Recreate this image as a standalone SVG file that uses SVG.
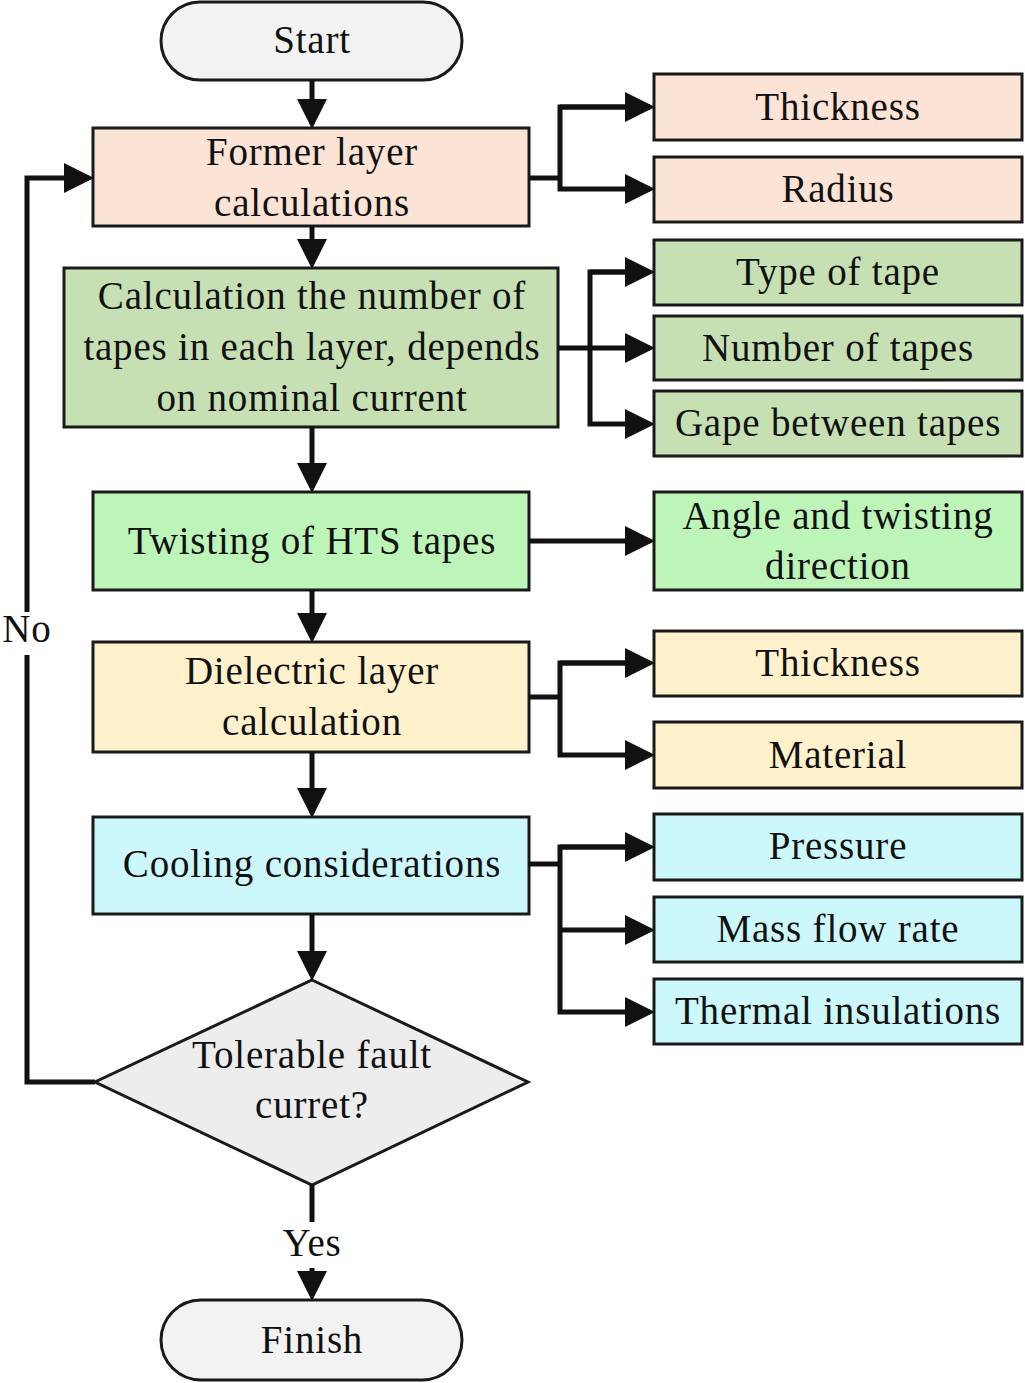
<svg xmlns="http://www.w3.org/2000/svg" width="1025" height="1383" viewBox="0 0 1025 1383">
<style>
text{font-family:"Liberation Serif","Times New Roman",serif;font-size:39px;letter-spacing:0.8px;fill:#111;text-anchor:middle}
.b{stroke:#1a1a1a;stroke-width:3}
.c{fill:none;stroke:#111;stroke-width:5}
</style>
<defs><marker id="a" markerWidth="6" markerHeight="6" refX="5" refY="3" orient="auto" markerUnits="strokeWidth"><path d="M0,0 L6,3 L0,6 z" fill="#111"/></marker></defs>
<rect width="1025" height="1383" fill="#fff"/>
<g id="start"><rect class="b" x="161" y="2" width="301" height="78" rx="39" fill="#f2f2f2"/><text x="312" y="53">Start</text></g>
<g id="former"><rect class="b" x="93" y="128" width="436" height="98" fill="#fbe3d5"/><text x="312" y="165">Former layer</text><text x="312" y="216">calculations</text></g>
<g id="calc"><rect class="b" x="64" y="268" width="494" height="159" fill="#c6e0b4"/><text x="312" y="309">Calculation the number of</text><text x="312" y="360">tapes in each layer, depends</text><text x="312" y="411">on nominal current</text></g>
<g id="twist"><rect class="b" x="93" y="492" width="436" height="98" fill="#bdf5b9"/><text x="312" y="554">Twisting of HTS tapes</text></g>
<g id="diel"><rect class="b" x="93" y="642" width="436" height="110" fill="#fff1cc"/><text x="312" y="684">Dielectric layer</text><text x="312" y="735">calculation</text></g>
<g id="cool"><rect class="b" x="93" y="817" width="436" height="97" fill="#ccf7fb"/><text x="312" y="877">Cooling considerations</text></g>
<g id="decision"><path class="b" d="M312,980 L528,1082 L312,1185 L95,1082 Z" fill="#ededed"/><text x="312" y="1068">Tolerable fault</text><text x="312" y="1118">curret?</text></g>
<g id="finish"><rect class="b" x="161" y="1300" width="301" height="80" rx="40" fill="#f2f2f2"/><text x="312" y="1353">Finish</text></g>
<g id="r1"><rect class="b" x="654" y="74" width="368" height="66" fill="#fbe3d5"/><text x="838" y="120">Thickness</text></g>
<g id="r2"><rect class="b" x="654" y="157" width="368" height="65" fill="#fbe3d5"/><text x="838" y="202">Radius</text></g>
<g id="r3"><rect class="b" x="654" y="240" width="368" height="65" fill="#c6e0b4"/><text x="838" y="285">Type of tape</text></g>
<g id="r4"><rect class="b" x="654" y="316" width="368" height="64" fill="#c6e0b4"/><text x="838" y="361">Number of tapes</text></g>
<g id="r5"><rect class="b" x="654" y="391" width="368" height="65" fill="#c6e0b4"/><text x="838" y="436">Gape between tapes</text></g>
<g id="r6"><rect class="b" x="654" y="492" width="368" height="98" fill="#bdf5b9"/><text x="838" y="529">Angle and twisting</text><text x="838" y="579">direction</text></g>
<g id="r7"><rect class="b" x="654" y="631" width="368" height="65" fill="#fff1cc"/><text x="838" y="676">Thickness</text></g>
<g id="r8"><rect class="b" x="654" y="722" width="368" height="66" fill="#fff1cc"/><text x="838" y="768">Material</text></g>
<g id="r9"><rect class="b" x="654" y="814" width="368" height="66" fill="#ccf7fb"/><text x="838" y="859">Pressure</text></g>
<g id="r10"><rect class="b" x="654" y="897" width="368" height="65" fill="#ccf7fb"/><text x="838" y="942">Mass flow rate</text></g>
<g id="r11"><rect class="b" x="654" y="979" width="368" height="65" fill="#ccf7fb"/><text x="838" y="1024">Thermal insulations</text></g>
<text x="27" y="642">No</text>
<text x="312" y="1256">Yes</text>
<g id="connectors" class="c">
<path class="c" d="M312,80 V124" marker-end="url(#a)"/>
<path class="c" d="M312,226 V264" marker-end="url(#a)"/>
<path class="c" d="M312,427 V488" marker-end="url(#a)"/>
<path class="c" d="M312,590 V638" marker-end="url(#a)"/>
<path class="c" d="M312,752 V813" marker-end="url(#a)"/>
<path class="c" d="M312,914 V976" marker-end="url(#a)"/>
<path class="c" d="M312,1185 V1222"/>
<path class="c" d="M312,1268 V1296" marker-end="url(#a)"/>
<path class="c" d="M95,1082 H27 V655"/>
<path class="c" d="M27,612 V178 H89" marker-end="url(#a)"/>
<path class="c" d="M529,178 H560"/>
<path class="c" d="M650,107 H560 V189 H650" marker-end="url(#a)"/>
<path class="c" d="M560,107 H650" marker-end="url(#a)"/>
<path class="c" d="M558,348 H650" marker-end="url(#a)"/>
<path class="c" d="M650,272 H590 V424 H650" marker-end="url(#a)"/>
<path class="c" d="M590,272 H650" marker-end="url(#a)"/>
<path class="c" d="M529,541 H650" marker-end="url(#a)"/>
<path class="c" d="M529,697 H560"/>
<path class="c" d="M650,663 H560 V755 H650" marker-end="url(#a)"/>
<path class="c" d="M560,663 H650" marker-end="url(#a)"/>
<path class="c" d="M529,864 H560"/>
<path class="c" d="M650,847 H560 V1012 H650" marker-end="url(#a)"/>
<path class="c" d="M560,847 H650" marker-end="url(#a)"/>
<path class="c" d="M560,930 H650" marker-end="url(#a)"/>
</g>
</svg>
